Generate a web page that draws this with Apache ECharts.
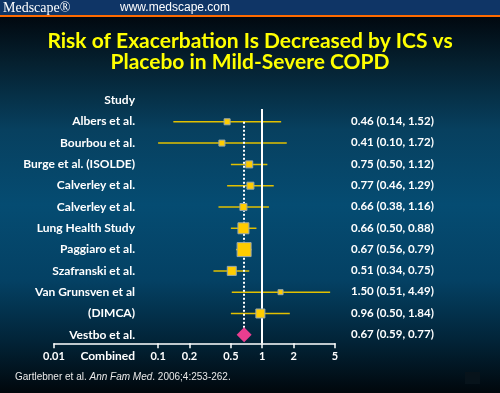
<!DOCTYPE html>
<html>
<head>
<meta charset="utf-8">
<script src="https://cdn.jsdelivr.net/npm/echarts@6/dist/echarts.min.js"></script>
<style>
  html, body { margin: 0; padding: 0; background: #01070c; }
  #chart { width: 500px; height: 393px; }
</style>
</head>
<body>
<div id="chart"></div>
<script>
// ---- data ----
const studies = ['Albers et al.', 'Bourbou et al.', 'Burge et al. (ISOLDE)', 'Calverley et al.', 'Calverley et al.',
  'Lung Health Study', 'Paggiaro et al.', 'Szafranski et al.', 'Van Grunsven et al', '(DIMCA)', 'Vestbo et al.'];
const headerLabel = 'Study';
const footerLabel = 'Combined';
const oddsRatio = [0.46, 0.41, 0.75, 0.77, 0.66, 0.66, 0.67, 0.51, 1.50, 0.96, 0.67];
const ciLow     = [0.14, 0.10, 0.50, 0.46, 0.38, 0.50, 0.56, 0.34, 0.51, 0.50, 0.59];
const ciHigh    = [1.52, 1.72, 1.12, 1.29, 1.16, 0.88, 0.79, 0.75, 4.49, 1.84, 0.77];
const combinedRow = 10;           // row drawn as a diamond (pooled estimate)
const combinedValue = 0.67;
const tickValues = [0.01, 0.1, 0.2, 0.5, 1, 2, 5];
const tickLabels = ['0.01', '0.1', '0.2', '0.5', '1', '2', '5'];

// ---- styling ----
const markerSizes = [6, 6, 7, 7, 7, 11, 14, 9, 5, 9];
const diamondSize = 15;
const FONT = 'Lato';

const L = v => Math.log10(v);
const fmt = v => v.toFixed(2);
const valueText = oddsRatio.map((v, i) => `${fmt(v)} (${fmt(ciLow[i])}, ${fmt(ciHigh[i])})`);

const ciData = [];
const boxData = [];
oddsRatio.forEach((v, i) => {
  if (i === combinedRow) return;
  ciData.push([L(ciLow[i]), L(ciHigh[i]), i]);
  boxData.push([L(v), i]);
});

const chart = echarts.init(document.getElementById('chart'), null, { renderer: 'canvas' });

const option = {
  backgroundColor: '#01070c',
  animation: false,
  graphic: [
    { type: 'rect', z: -10, shape: { x: 0, y: 17, width: 500, height: 376 },
      style: { fill: new echarts.graphic.LinearGradient(0, 0, 0, 1, [
        { offset: 0, color: '#010910' },
        { offset: 0.12, color: '#05202f' },
        { offset: 0.3, color: '#07405f' },
        { offset: 0.5, color: '#054c72' },
        { offset: 0.7, color: '#044164' },
        { offset: 0.86, color: '#022438' },
        { offset: 1, color: '#01070c' }
      ]) } },
    { type: 'rect', z: -9, shape: { x: 0, y: 0, width: 500, height: 15 }, style: { fill: '#0f3566' } },
    { type: 'rect', z: -9, shape: { x: 0, y: 15, width: 500, height: 2 }, style: { fill: '#ff6a00' } },
    { type: 'text', x: 3, y: 1, style: { text: 'Medscape®', fill: '#ffffff', font: '14px "Liberation Serif"' } },
    { type: 'text', x: 120, y: 2, style: { text: 'www.medscape.com', fill: '#ffffff', font: '12px "Liberation Sans"' } },
    { type: 'text', x: 15, y: 372, style: {
        text: 'Gartlebner et al. {i|Ann Fam Med}. 2006;4:253-262.',
        fill: '#e8e8e8', font: '10px "Liberation Sans"',
        rich: { i: { fontStyle: 'italic', fontSize: 10, fontFamily: 'Liberation Sans', fill: '#e8e8e8' } } } },
    { type: 'rect', shape: { x: 465, y: 372, width: 15, height: 12 }, style: { fill: '#07131b' } }
  ],
  title: {
    text: 'Risk of Exacerbation Is Decreased by ICS vs\nPlacebo in Mild-Severe COPD',
    left: 'center', top: 26,
    textStyle: { color: '#ffff00', fontSize: 21, fontWeight: 'bold', fontFamily: FONT, lineHeight: 21 }
  },
  grid: [
    { left: 54, top: 109, width: 281, height: 234.3 },
    { left: 135, top: 89.35, width: 1, height: 277.3 },
    { left: 351, top: 110.65, width: 100, height: 234.3 }
  ],
  xAxis: [
    {
      gridIndex: 0, type: 'value', position: 'bottom',
      min: L(tickValues[0]), max: L(tickValues[tickValues.length - 1]),
      splitLine: { show: false },
      axisLine: { onZero: false, lineStyle: { color: '#ffffff', width: 1.5 } },
      axisTick: { length: 5, lineStyle: { color: '#ffffff', width: 1.5 }, customValues: tickValues.map(L) },
      axisLabel: {
        customValues: tickValues.map(L), color: '#ffffff', fontSize: 11, fontWeight: 'bold', fontFamily: FONT, margin: 8,
        formatter: v => { const k = tickValues.findIndex(t => Math.abs(L(t) - v) < 1e-6); return k >= 0 ? tickLabels[k] : ''; }
      }
    },
    { gridIndex: 1, type: 'value', show: false },
    { gridIndex: 2, type: 'value', show: false }
  ],
  yAxis: [
    { gridIndex: 0, type: 'value', inverse: true, min: -0.6, max: 10.4, show: false },
    {
      gridIndex: 1, type: 'category', inverse: true, position: 'left',
      data: [headerLabel].concat(studies, [footerLabel]),
      axisLine: { show: false }, axisTick: { show: false }, splitLine: { show: false },
      axisLabel: { color: '#ffffff', fontSize: 12, fontWeight: 'bold', fontFamily: FONT, margin: 0, interval: 0 }
    },
    {
      gridIndex: 2, type: 'category', inverse: true, position: 'left',
      data: valueText,
      axisLine: { show: false }, axisTick: { show: false }, splitLine: { show: false },
      axisLabel: { inside: true, color: '#ffffff', fontSize: 11.5, fontWeight: 'bold', fontFamily: FONT, margin: 0, interval: 0 }
    }
  ],
  series: [
    {
      type: 'custom', xAxisIndex: 0, yAxisIndex: 0, z: 2,
      encode: { x: [0, 1], y: 2 },
      data: ciData,
      renderItem: (params, api) => {
        const a = api.coord([api.value(0), api.value(2)]);
        const b = api.coord([api.value(1), api.value(2)]);
        return { type: 'line', shape: { x1: a[0], y1: a[1], x2: b[0], y2: b[1] },
          style: { stroke: '#e2c000', lineWidth: 1.5 } };
      },
      markLine: {
        silent: true, symbol: 'none', label: { show: false },
        data: [
          { xAxis: L(1), lineStyle: { color: '#ffffff', width: 2, type: 'solid' } },
          [ { coord: [L(combinedValue), 0] }, { coord: [L(combinedValue), combinedRow], lineStyle: { color: '#ffffff', width: 2, type: [2, 2] } } ]
        ],
        lineStyle: { color: '#ffffff', width: 2, type: [2, 2] }
      }
    },
    {
      type: 'scatter', xAxisIndex: 0, yAxisIndex: 0, z: 5,
      symbol: 'rect',
      symbolSize: (val, p) => markerSizes[p.dataIndex],
      itemStyle: { color: '#ffcc00', borderColor: '#9aa9ad', borderWidth: 1, opacity: 1 },
      data: boxData
    },
    {
      type: 'scatter', xAxisIndex: 0, yAxisIndex: 0, z: 6,
      symbol: 'diamond', symbolSize: diamondSize,
      itemStyle: { color: '#e83e8f', opacity: 1 },
      data: [[L(oddsRatio[combinedRow]), combinedRow]]
    }
  ]
};
chart.setOption(option);
</script>
</body>
</html>
